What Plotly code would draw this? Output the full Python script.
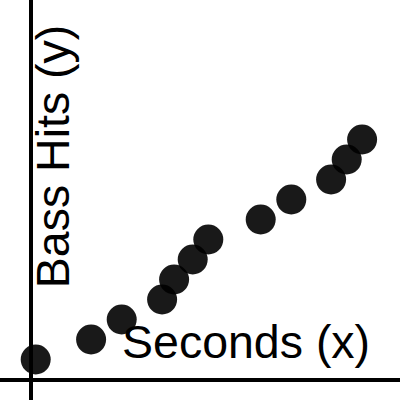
"""
Scatter of bass hits against seconds, drawn as a bare sketch:
black crossing axes, big dots, hand-placed axis labels.
"""

import plotly.graph_objects as go

# values
seconds = [0.26, 3.03, 4.56, 6.58, 7.18, 8.11, 8.89, 11.51, 13.04, 15.03, 15.81, 16.58]
bass_hits = [1, 2, 3, 4, 5, 6, 7, 8, 9, 10, 11, 12]

x_label = "Seconds (x)"
y_label = "Bass Hits (y)"

FONT = "Liberation Sans, Arial, sans-serif"

fig = go.Figure(
    go.Scatter(
        x=seconds,
        y=bass_hits,
        mode="markers",
        marker=dict(size=30, color="black", opacity=0.9, line=dict(width=0)),
        hoverinfo="skip",
    )
)

axis_style = dict(
    showgrid=False,
    showticklabels=False,
    ticks="",
    showline=False,
    zeroline=True,
    zerolinecolor="black",
    zerolinewidth=4,
    fixedrange=True,
)

fig.update_xaxes(range=[-1.525, 18.475], **axis_style)
fig.update_yaxes(range=[-1.025, 18.975], **axis_style)

fig.add_annotation(
    text=x_label,
    xref="paper", yref="paper",
    x=0.301, y=0.146,
    xanchor="left", yanchor="middle",
    showarrow=False,
    font=dict(family=FONT, size=46.5, color="black"),
)
fig.add_annotation(
    text=y_label,
    xref="paper", yref="paper",
    x=0.133, y=1 - 156 / 400,
    xanchor="center", yanchor="middle",
    textangle=-90,
    showarrow=False,
    font=dict(family=FONT, size=46.5, color="black"),
)

fig.update_layout(
    width=400,
    height=400,
    margin=dict(l=0, r=0, t=0, b=0),
    paper_bgcolor="white",
    plot_bgcolor="white",
    showlegend=False,
)

# drop the page's default 8px body margin so the figure sits at the corner
fig.write_html(
    "out.html",
    config={"displayModeBar": False},
    post_script="document.body.style.margin = '0';",
)
